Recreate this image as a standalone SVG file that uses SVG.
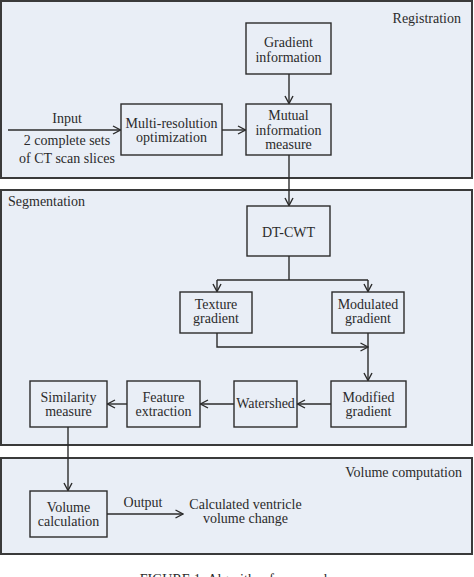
<svg xmlns="http://www.w3.org/2000/svg" width="474" height="577" viewBox="0 0 474 577" font-family="'Liberation Serif', 'DejaVu Serif', serif">
<defs>
<style>
.panel{fill:#e9eef6;stroke:#3a3a3a;stroke-width:2}
.box{fill:#e9eef6;stroke:#2b2b2b;stroke-width:1.4}
text{font-family:'Liberation Serif','DejaVu Serif',serif;font-size:14px;fill:#2b2b2b}
.t{text-anchor:middle}
.c{fill:none;stroke:#2b2b2b;stroke-width:1.4}
</style>
<marker id="ah" viewBox="0 0 10 10" refX="9.5" refY="5" markerWidth="10" markerHeight="10" markerUnits="userSpaceOnUse" orient="auto">
<path d="M2,1 L9.5,5 L2,9" fill="none" stroke="#2b2b2b" stroke-width="1.4"/>
</marker>
</defs>
<rect width="474" height="577" fill="#ffffff"/>
<g id="panel-registration">
<rect class="panel" x="1" y="1" width="471" height="177"/>
<text x="461" y="23" text-anchor="end">Registration</text>
</g>
<g id="panel-segmentation">
<rect class="panel" x="1" y="190" width="471" height="255"/>
<text x="8" y="206">Segmentation</text>
</g>
<g id="panel-volume">
<rect class="panel" x="1" y="458" width="471" height="96"/>
<text x="462" y="477" text-anchor="end">Volume computation</text>
</g>
<g id="connectors">
<path class="c" d="M8,130 H120.5" marker-end="url(#ah)"/>
<path class="c" d="M222,130 H245.5" marker-end="url(#ah)"/>
<path class="c" d="M289,74 V103.5" marker-end="url(#ah)"/>
<path class="c" d="M289,155 V205.5" marker-end="url(#ah)"/>
<path class="c" d="M289,256 V280"/>
<path class="c" d="M217,280 H368"/>
<path class="c" d="M217,280 V291.5" marker-end="url(#ah)"/>
<path class="c" d="M368,280 V291.5" marker-end="url(#ah)"/>
<path class="c" d="M217,333 V347 H368" marker-end="url(#ah)"/>
<path class="c" d="M368,333 V380.5" marker-end="url(#ah)"/>
<path class="c" d="M331,404 H297.5" marker-end="url(#ah)"/>
<path class="c" d="M234,404 H200.5" marker-end="url(#ah)"/>
<path class="c" d="M127,404 H107.5" marker-end="url(#ah)"/>
<path class="c" d="M68,427 V490.5" marker-end="url(#ah)"/>
<path class="c" d="M107,514 H183" marker-end="url(#ah)"/>
</g>
<g id="input-label">
<text class="t" x="67" y="123">Input</text>
<text class="t" x="67" y="145">2 complete sets</text>
<text class="t" x="67" y="163">of CT scan slices</text>
</g>
<g id="gradient-information">
<rect class="box" x="246" y="23" width="85" height="51"/>
<text class="t" x="288.5" y="47">Gradient</text>
<text class="t" x="288.5" y="62">information</text>
</g>
<g id="multi-resolution">
<rect class="box" x="121" y="104" width="101" height="51"/>
<text class="t" x="171.5" y="128">Multi-resolution</text>
<text class="t" x="171.5" y="142">optimization</text>
</g>
<g id="mutual-information">
<rect class="box" x="246" y="104" width="85" height="51"/>
<text class="t" x="288.5" y="120">Mutual</text>
<text class="t" x="288.5" y="134.5">information</text>
<text class="t" x="288.5" y="148.5">measure</text>
</g>
<g id="dt-cwt">
<rect class="box" x="247" y="206" width="83" height="50"/>
<text class="t" x="288.5" y="237">DT-CWT</text>
</g>
<g id="texture-gradient">
<rect class="box" x="180" y="292" width="72" height="41"/>
<text class="t" x="216" y="309">Texture</text>
<text class="t" x="216" y="323">gradient</text>
</g>
<g id="modulated-gradient">
<rect class="box" x="332" y="292" width="72" height="41"/>
<text class="t" x="368" y="309">Modulated</text>
<text class="t" x="368" y="323">gradient</text>
</g>
<g id="modified-gradient">
<rect class="box" x="331" y="381" width="75" height="46"/>
<text class="t" x="368.5" y="402">Modified</text>
<text class="t" x="368.5" y="416">gradient</text>
</g>
<g id="watershed">
<rect class="box" x="234" y="381" width="63" height="46"/>
<text class="t" x="265.5" y="408">Watershed</text>
</g>
<g id="feature-extraction">
<rect class="box" x="127" y="381" width="73" height="46"/>
<text class="t" x="163.5" y="402">Feature</text>
<text class="t" x="163.5" y="416">extraction</text>
</g>
<g id="similarity-measure">
<rect class="box" x="30" y="381" width="77" height="46"/>
<text class="t" x="68.5" y="402">Similarity</text>
<text class="t" x="68.5" y="416">measure</text>
</g>
<g id="volume-calculation">
<rect class="box" x="30" y="491" width="77" height="46"/>
<text class="t" x="68.5" y="512">Volume</text>
<text class="t" x="68.5" y="526">calculation</text>
</g>
<g id="output-label">
<text class="t" x="143" y="507">Output</text>
</g>
<g id="result">
<text class="t" x="245.5" y="509">Calculated ventricle</text>
<text class="t" x="245.5" y="523">volume change</text>
</g>
<g id="caption">
<text class="t" x="237" y="584">FIGURE 1: Algorithm framework.</text>
</g>
</svg>
